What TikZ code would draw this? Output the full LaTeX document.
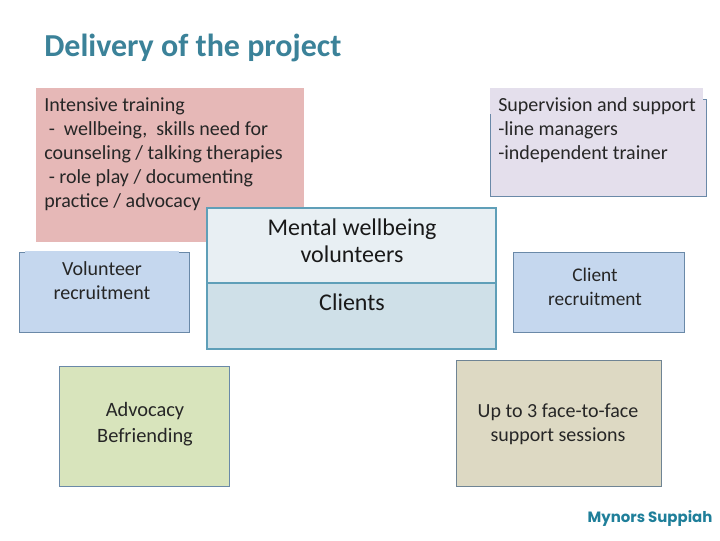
\documentclass[tikz,border=0pt]{standalone}
\usepackage{fontspec}
\setmainfont{Carlito}
\newfontfamily\sigfont{Poppins}
\definecolor{titlecol}{HTML}{3B8299}
\definecolor{pinkfill}{HTML}{E6B8B7}
\definecolor{bluefill}{HTML}{C5D7EE}
\definecolor{blueline}{HTML}{6A89A8}
\definecolor{lavfill}{HTML}{E4DFEC}
\definecolor{topfill}{HTML}{E8EFF3}
\definecolor{botfill}{HTML}{CFE0E8}
\definecolor{tealline}{HTML}{5F9FB8}
\definecolor{greenfill}{HTML}{D8E4BC}
\definecolor{tanfill}{HTML}{DDD9C3}
\definecolor{tanline}{HTML}{6F8494}
\definecolor{sigcol}{HTML}{1F7F9A}
\tikzset{
  x=0.75pt,y=-0.75pt,
  txt/.style={inner sep=0pt,text=black!85,font=\fontsize{15}{18}\selectfont,align=#1},
  txt/.default=center,
  big/.style={inner sep=0pt,text=black!90,font=\fontsize{18}{20.2}\selectfont,align=center},
  box/.style={line width=0.75pt,draw=blueline}
}
\begin{document}
\begin{tikzpicture}
\useasboundingbox (0,0) rectangle (720,540);
\fill[white] (0,0) rectangle (720,540);
\node[anchor=west,inner sep=0pt,text=titlecol,font=\fontsize{24}{28}\selectfont\bfseries] (title) at (44,48) {Delivery of the project};
% pink training box
\fill[pinkfill] (36,88) rectangle (304,242);
\node[txt=left,anchor=north west] (train) at (44,97) {Intensive training\\\ -\ \ wellbeing,\ \ skills need for\\counseling / talking therapies\\\ -\ role play / documenting\\practice / advocacy};
% supervision
\fill[lavfill,box] (490,99) rectangle (706,196);
\fill[lavfill] (490,88) rectangle (703,114);
\node[txt=left,anchor=north west] (sup) at (498,97) {Supervision and support\\-line managers\\-independent trainer};
% volunteer recruitment
\fill[bluefill,box] (19,252) rectangle (189,332);
\fill[bluefill] (25,251) rectangle (179,254);
\node[txt] (vol) at (102,280.5) {Volunteer\\recruitment};
% client recruitment
\fill[bluefill,box] (513,252) rectangle (684,332);
\node[txt,font=\fontsize{14.5}{18}\selectfont] (cli) at (595,287) {Client\\recruitment};
% centre
\fill[topfill] (207,208) rectangle (496,283);
\fill[botfill] (207,283) rectangle (496,349);
\draw[tealline,line width=1.5pt] (207,208) rectangle (496,349);
\draw[tealline,line width=1.5pt] (207,283) -- (496,283);
\node[big] (mw) at (352,241) {Mental wellbeing\\volunteers};
\node[big] (cl) at (352,302) {Clients};
% advocacy
\fill[greenfill,box] (59,366) rectangle (229,486);
\node[txt,font=\fontsize{15.3}{19.5}\selectfont] (adv) at (145,424.5) {Advocacy\\Befriending};
% sessions
\fill[tanfill,draw=tanline,line width=0.75pt] (456,360) rectangle (661,486);
\node[txt] (ses) at (558,424) {Up to 3 face-to-face\\support sessions};
% signature
\node[inner sep=0pt,text=sigcol,font=\fontsize{11.2}{13}\selectfont\sigfont\bfseries] (sig) at (650,518) {Mynors Suppiah};
\end{tikzpicture}
\end{document}
